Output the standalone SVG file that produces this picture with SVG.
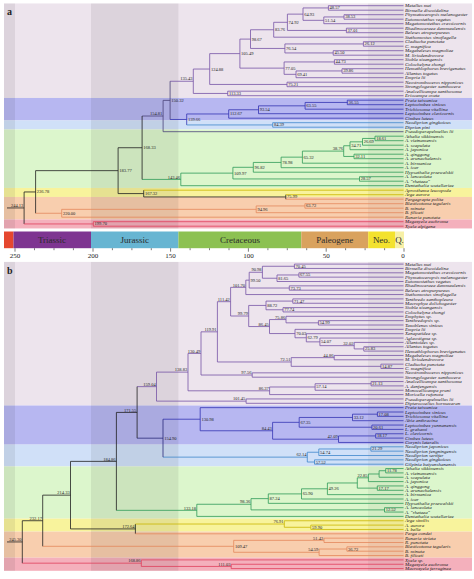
<svg xmlns="http://www.w3.org/2000/svg" width="474" height="579" viewBox="0 0 474 579">
<defs>
<style>
.tx{font-family:"Liberation Serif",serif;font-style:italic;font-size:5px;fill:#1a1a1a}
.nl{font-family:"Liberation Serif",serif;font-size:4.5px;fill:#222}
.nl .l{text-anchor:end}
.ln{fill:none;stroke-width:0.8;stroke-linejoin:miter}
.k{stroke:#1f1f1f}.pu{stroke:#7654a6}.dp{stroke:#4a4278}.bl{stroke:#3434b2}.nv{stroke:#2a2a78}.lb{stroke:#3f86cc}.gr{stroke:#2e9a58}.ye{stroke:#c9b600}.or{stroke:#e3885c}.pk{stroke:#df3f5c}
.per{font-family:"Liberation Serif",serif;font-size:9px;fill:#2b2b2b;text-anchor:middle}
.tk{font-family:"Liberation Serif",serif;font-size:7px;fill:#222;text-anchor:middle}
.pl{font-family:"Liberation Serif",serif;font-size:10px;font-weight:bold;fill:#222}
</style>
</defs>
<rect width="474" height="579" fill="#ffffff"/>
<g id="bands-a">
<rect x="4" y="3.45" width="468" height="94.5" fill="#ede4ed"/>
<rect x="4" y="97.95" width="468" height="22.5" fill="#b7b7f1"/>
<rect x="4" y="120.45" width="468" height="9" fill="#d0e0f8"/>
<rect x="4" y="129.45" width="468" height="58.5" fill="#dcf6cc"/>
<rect x="4" y="187.95" width="468" height="9" fill="#f8f39c"/>
<rect x="4" y="196.95" width="468" height="22.5" fill="#f8ceae"/>
<rect x="4" y="219.45" width="468" height="9" fill="#f4b0bc"/>
<rect x="4" y="3.45" width="11" height="225" fill="#000" opacity="0.07"/>
<rect x="91" y="3.45" width="87.4" height="225" fill="#000" opacity="0.07"/>
<rect x="368" y="3.45" width="36" height="225" fill="#000" opacity="0.04"/>
</g>
<g id="bands-b">
<rect x="4" y="261.9" width="468" height="143.6" fill="#ede4ed"/>
<rect x="4" y="405.5" width="468" height="39.1" fill="#b7b7f1"/>
<rect x="4" y="444.6" width="468" height="21.8" fill="#d0e0f8"/>
<rect x="4" y="466.4" width="468" height="52.2" fill="#dcf6cc"/>
<rect x="4" y="518.6" width="468" height="13" fill="#f8f39c"/>
<rect x="4" y="531.6" width="468" height="26.1" fill="#f8ceae"/>
<rect x="4" y="557.7" width="468" height="13.1" fill="#f4b0bc"/>
<rect x="4" y="261.9" width="11" height="308.9" fill="#000" opacity="0.07"/>
<rect x="91" y="261.9" width="87.4" height="308.9" fill="#000" opacity="0.07"/>
<rect x="368" y="261.9" width="36" height="308.9" fill="#000" opacity="0.04"/>
</g>
<g id="panel-labels">
<text class="pl" x="7" y="15">a</text>
<text class="pl" x="7" y="273.5">b</text>
</g>
<g id="timescale">
<rect x="4" y="231.5" width="9.5" height="16.7" fill="#e5472f"/>
<rect x="13.5" y="231.5" width="77.5" height="16.7" fill="#7e3591"/>
<rect x="91" y="231.5" width="87.4" height="16.7" fill="#67b5d2"/>
<rect x="178.4" y="231.5" width="122.9" height="16.7" fill="#8cc152"/>
<rect x="301.3" y="231.5" width="66.9" height="16.7" fill="#d9a25e"/>
<rect x="368.2" y="231.5" width="26.8" height="16.7" fill="#f3e22f"/>
<rect x="395" y="231.5" width="9" height="16.7" fill="#f7f0a6"/>
<text class="per" x="52" y="243">Triassic</text>
<text class="per" x="134.7" y="243">Jurassic</text>
<text class="per" x="240" y="243">Cretaceous</text>
<text class="per" x="334.7" y="243">Paleogene</text>
<text class="per" x="381.5" y="243">Neo.</text>
<text class="per" x="399.5" y="243">Q.</text>
<path fill="none" stroke="#444" stroke-width="0.7" d="M15 248.2V251.7M93 248.2V251.7M170.6 248.2V251.7M248.4 248.2V251.7M326.2 248.2V251.7M404 248.2V251.7M34.5 248.2V250.2M54 248.2V250.2M73.4 248.2V250.2M112.4 248.2V250.2M131.9 248.2V250.2M151.3 248.2V250.2M190.1 248.2V250.2M209.5 248.2V250.2M229 248.2V250.2M267.9 248.2V250.2M287.3 248.2V250.2M306.7 248.2V250.2M345.6 248.2V250.2M365.1 248.2V250.2M384.6 248.2V250.2"/>
<text class="tk" x="15" y="258">250</text>
<text class="tk" x="93" y="258">200</text>
<text class="tk" x="170.6" y="258">150</text>
<text class="tk" x="248.4" y="258">100</text>
<text class="tk" x="326.2" y="258">50</text>
<text class="tk" x="403" y="258">0</text>
</g>
<g id="connectors-a" class="ln">
<path class="pu" d="M403.5 5.7H328.4V10.2H403.5M403.5 14.7H344V19.2H403.5M344 16.95H323.8V23.7H403.5M328.4 7.95H303V20.33H323.8M403.5 28.2H346.4V32.7H403.5M303 14.14H287.4V30.45H346.4M287.4 22.3H273.7V37.2H403.5M403.5 41.7H363.4V46.2H403.5M403.5 50.7H333.2V55.2H403.5M363.4 43.95H284.9V52.95H333.2M273.7 29.75H250.5V48.45H284.9M403.5 59.7H334.4V64.2H403.5M403.5 68.7H342V73.2H403.5M342 70.95H296V77.7H403.5M334.4 61.95H284.1V74.33H296M250.5 39.1H239.9V68.14H284.1M403.5 82.2H287V86.7H403.5M239.9 53.62H209.7V84.45H287M403.5 91.2H227.7V95.7H403.5M209.7 69.04H193.3V93.45H227.7M170.1 81.25H193.3"/>
<path class="dp" d="M170.1 81.25V119.47M170.1 100.36H163.1V131.7H403.5M163.1 116.03H142.1"/>
<path class="bl" d="M403.5 100.2H347.3V104.7H403.5M347.3 102.45H305.1V109.2H403.5M305.1 105.83H258.5V113.7H403.5M258.5 109.76H228.7V118.2H403.5M228.7 113.98H186.7V124.95M170.1 119.47H186.7"/>
<path class="lb" d="M186.7 124.95H272.7M403.5 122.7H272.7V127.2H403.5"/>
<path class="gr" d="M403.5 136.2H375V140.7H403.5M375 138.45H362.5V145.2H403.5M362.5 141.83H350V149.7H403.5M403.5 154.2H354V158.7H403.5M350 145.76H343.7V156.45H354M343.7 151.1H302.4V163.2H403.5M302.4 157.15H281.1V167.7H403.5M281.1 162.43H253.3V172.2H403.5M403.5 176.7H359.5V181.2H403.5M253.3 167.31H232.9V178.95H359.5M232.9 173.13H180.8V185.7H403.5M142.1 179.41H180.8"/>
<path class="k" d="M142.1 116.03V179.41M142.1 147.72H118.1V193.58H143.7M143.7 190.2V196.95H285.8M285.8 194.7V199.2M118.1 170.65H35.6V213.26M35.6 191.96H24.1V223.95M7 207.95H24.1"/>
<path class="ye" d="M403.5 190.2H143.7M285.8 194.7H403.5"/>
<path class="or" d="M285.8 199.2H403.5M403.5 203.7H304.9V208.2H403.5M304.9 205.95H256.2V212.7H403.5M256.2 209.33H61.7V217.2H403.5M35.6 213.26H61.7"/>
<path class="pk" d="M403.5 221.7H93.3V226.2H403.5M24.1 223.95H93.3"/>
</g>
<g id="connectors-b" class="ln">
<path class="pu" d="M403.5 264.1H294.4V268.45H403.5M403.5 272.8H298.9V277.15H403.5M298.9 274.98H277V281.5H403.5M294.4 266.28H262.4V278.24H277M403.5 285.85H289.3V290.2H403.5M262.4 272.26H249.2V288.03H289.3M249.2 280.15H245.8V294.55H403.5M403.5 298.9H292.8V303.25H403.5M403.5 307.6H283V311.95H403.5M292.8 301.08H266V309.78H283M403.5 320.65H318.4V325H403.5M403.5 316.3H286V322.83H318.4M403.5 346.75H363.8V351.1H403.5M403.5 342.4H354.2V348.93H363.8M403.5 338.05H319.9V345.66H354.2M403.5 333.7H306.3V341.86H319.9M403.5 329.35H295V337.78H306.3M286 319.56H269.5V333.56H295M266 305.43H248.7V326.56H269.5M245.8 287.35H230.6V316H248.7M403.5 355.45H334.2V359.8H403.5M403.5 364.15H380.9V368.5H403.5M334.2 357.63H291.2V366.33H380.9M230.6 301.68H217.4V361.98H291.2M403.5 372.85H252.2V377.2H403.5M217.4 331.83H201V375.03H252.2M403.5 381.55H371.1V385.9H403.5M371.1 383.73H315.1V390.25H403.5M315.1 386.99H269.6V394.6H403.5M201 353.43H188V390.8H269.6M403.5 398.95H246.1V403.3H403.5M188 372.12H156.5V401.13H246.1M156.5 386.63H137.1"/>
<path class="bl" d="M403.5 412H377.4V416.35H403.5M377.4 414.18H352.5V420.7H403.5M403.5 425.05H371.9V429.4H403.5M352.5 417.44H299.2V427.23H371.9M403.5 433.75H375.7V438.1H403.5M375.7 435.93H338.5V442.45H403.5M299.2 422.34H272.6V439.19H338.5M403.5 407.65H200.2V430.77H272.6M163 419.21H200.2"/>
<path class="lb" d="M403.5 446.8H370.9V451.15H403.5M370.9 448.98H318.8V455.5H403.5M403.5 459.85H314.5V464.2H403.5M318.8 452.24H307.3V462.03H314.5M163 457.14H307.3"/>
<path class="nv" d="M163 419.21V457.14M137.1 438.18H163"/>
<path class="gr" d="M403.5 468.55H385.7V472.9H403.5M385.7 470.73H379.1V477.25H403.5M379.1 473.99H368.4V481.6H403.5M403.5 485.95H377.3V490.3H403.5M368.4 477.8H357.3V488.13H377.3M357.3 482.97H327.4V494.65H403.5M327.4 488.81H301.5V499H403.5M301.5 493.9H268.3V503.35H403.5M403.5 507.7H384.5V512.05H403.5M268.3 498.63H251V509.88H384.5M251 504.25H196.8V516.4H403.5M116.4 510.33H196.8"/>
<path class="k" d="M137.1 386.63V438.18M137.1 412.41H116.4V510.33M116.4 461.37H70.5V528.91H135.4M135.4 524.02V533.8M70.5 495.15H42.7V546.31M42.7 520.73H22.3V563.17M7 541.95H22.3"/>
<path class="ye" d="M403.5 525.1H310.8V529.45H403.5M403.5 520.75H284.3V527.28H310.8M135.4 524.02H284.3"/>
<path class="or" d="M135.4 533.8H403.5M403.5 538.15H324V542.5H403.5M403.5 546.85H346.9V551.2H403.5M346.9 549.03H319.1V555.55H403.5M324 540.33H233.7V552.29H319.1M42.7 546.31H233.7"/>
<path class="pk" d="M403.5 564.25H231.2V568.6H403.5M403.5 559.9H141.3V566.43H231.2M22.3 563.17H141.3"/>
</g>
<g id="nodes-a" class="nl">
<g id="na-24413"><text class="l" x="23.3" y="207.15">244.13</text></g>
<g id="na-23678"><text x="36.8" y="193.46">236.78</text></g>
<g id="na-22000"><text x="62.9" y="214.76">220.00</text></g>
<g id="na-19970"><text x="94.5" y="225.45">199.70</text></g>
<g id="na-18377"><text x="119.3" y="172.15">183.77</text></g>
<g id="na-16833"><text x="143.3" y="149.22">168.33</text></g>
<g id="na-16732"><text x="144.9" y="195.08">167.32</text></g>
<g id="na-15481"><text class="l" x="162.3" y="115.23">154.81</text></g>
<g id="na-15032"><text x="171.3" y="101.86">150.32</text></g>
<g id="na-14346"><text class="l" x="180" y="178.61">143.46</text></g>
<g id="na-13966"><text x="187.9" y="120.97">139.66</text></g>
<g id="na-13543"><text class="l" x="192.5" y="80.45">135.43</text></g>
<g id="na-12488"><text x="210.9" y="70.54">124.88</text></g>
<g id="na-11333"><text x="228.9" y="94.95">113.33</text></g>
<g id="na-11267"><text x="229.9" y="115.48">112.67</text></g>
<g id="na-10997"><text x="234.1" y="174.63">109.97</text></g>
<g id="na-10549"><text x="241.1" y="55.12">105.49</text></g>
<g id="na-9867"><text x="251.7" y="40.6">98.67</text></g>
<g id="na-9682"><text x="254.5" y="168.81">96.82</text></g>
<g id="na-9496"><text x="257.4" y="210.83">94.96</text></g>
<g id="na-9354"><text x="259.7" y="111.26">93.54</text></g>
<g id="na-8439"><text x="273.9" y="126.45">84.39</text></g>
<g id="na-8376"><text x="274.9" y="31.25">83.76</text></g>
<g id="na-7898"><text x="282.3" y="163.93">78.98</text></g>
<g id="na-7705"><text x="285.3" y="69.64">77.05</text></g>
<g id="na-7654"><text x="286.1" y="49.95">76.54</text></g>
<g id="na-7599"><text x="287" y="198.45">75.99</text></g>
<g id="na-7521"><text x="288.2" y="85.95">75.21</text></g>
<g id="na-7492"><text x="288.6" y="23.8">74.92</text></g>
<g id="na-6941"><text x="297.2" y="75.83">69.41</text></g>
<g id="na-6532"><text x="303.6" y="158.65">65.32</text></g>
<g id="na-6493"><text x="304.2" y="15.64">64.93</text></g>
<g id="na-6372"><text x="306.1" y="207.45">63.72</text></g>
<g id="na-6355"><text x="306.3" y="107.33">63.55</text></g>
<g id="na-5154"><text x="325" y="21.83">51.54</text></g>
<g id="na-4857"><text x="329.6" y="9.45">48.57</text></g>
<g id="na-4550"><text x="334.4" y="54.45">45.50</text></g>
<g id="na-4473"><text x="335.6" y="63.45">44.73</text></g>
<g id="na-3986"><text x="343.2" y="72.45">39.86</text></g>
<g id="na-3876"><text class="l" x="342.9" y="150.3">38.76</text></g>
<g id="na-3853"><text x="345.2" y="18.45">38.53</text></g>
<g id="na-3701"><text x="347.6" y="31.95">37.01</text></g>
<g id="na-3655"><text x="348.5" y="103.95">36.55</text></g>
<g id="na-3471"><text x="351.2" y="147.26">34.71</text></g>
<g id="na-3211"><text x="355.2" y="157.95">32.11</text></g>
<g id="na-2857"><text x="360.7" y="180.45">28.57</text></g>
<g id="na-2612"><text x="364.6" y="45.45">26.12</text></g>
<g id="na-2669"><text x="363.7" y="143.33">26.69</text></g>
<g id="na-1861"><text x="376.2" y="139.95">18.61</text></g>
</g>
<g id="nodes-b" class="nl">
<g id="nb-24530"><text class="l" x="21.5" y="541.15">245.30</text></g>
<g id="nb-23217"><text class="l" x="41.9" y="519.93">232.17</text></g>
<g id="nb-21433"><text class="l" x="69.7" y="494.35">214.33</text></g>
<g id="nb-18486"><text class="l" x="115.6" y="460.57">184.86</text></g>
<g id="nb-17264"><text class="l" x="134.6" y="528.11">172.64</text></g>
<g id="nb-17155"><text class="l" x="136.3" y="411.61">171.55</text></g>
<g id="nb-16886"><text class="l" x="140.5" y="562.37">168.86</text></g>
<g id="nb-15904"><text class="l" x="155.7" y="385.83">159.04</text></g>
<g id="nb-15490"><text x="164.2" y="439.68">154.90</text></g>
<g id="nb-13883"><text class="l" x="187.2" y="371.32">138.83</text></g>
<g id="nb-13318"><text class="l" x="196" y="509.53">133.18</text></g>
<g id="nb-13098"><text x="201.4" y="420.71">130.98</text></g>
<g id="nb-13049"><text class="l" x="200.2" y="352.63">130.49</text></g>
<g id="nb-11991"><text class="l" x="216.6" y="331.03">119.91</text></g>
<g id="nb-11142"><text class="l" x="229.8" y="300.88">111.42</text></g>
<g id="nb-11103"><text class="l" x="230.4" y="565.63">111.03</text></g>
<g id="nb-10947"><text x="234.9" y="547.81">109.47</text></g>
<g id="nb-10170"><text class="l" x="245" y="286.55">101.70</text></g>
<g id="nb-10145"><text class="l" x="245.3" y="400.33">101.45</text></g>
<g id="nb-9979"><text class="l" x="247.9" y="315.2">99.79</text></g>
<g id="nb-9950"><text x="250.4" y="281.65">99.50</text></g>
<g id="nb-9836"><text class="l" x="250.2" y="503.45">98.36</text></g>
<g id="nb-9756"><text class="l" x="251.4" y="374.23">97.56</text></g>
<g id="nb-9098"><text class="l" x="261.6" y="271.46">90.98</text></g>
<g id="nb-8872"><text x="267.2" y="306.93">88.72</text></g>
<g id="nb-8724"><text x="269.5" y="500.13">87.24</text></g>
<g id="nb-8645"><text class="l" x="268.7" y="325.76">86.45</text></g>
<g id="nb-8637"><text class="l" x="268.8" y="390">86.37</text></g>
<g id="nb-8443"><text class="l" x="271.8" y="429.97">84.43</text></g>
<g id="nb-8165"><text x="278.2" y="279.74">81.65</text></g>
<g id="nb-7774"><text x="284.2" y="311.28">77.74</text></g>
<g id="nb-7691"><text class="l" x="283.5" y="523.22">76.91</text></g>
<g id="nb-7586"><text class="l" x="285.2" y="318.76">75.86</text></g>
<g id="nb-7373"><text x="290.5" y="289.53">73.73</text></g>
<g id="nb-7251"><text class="l" x="290.4" y="361.18">72.51</text></g>
<g id="nb-7147"><text x="294" y="302.58">71.47</text></g>
<g id="nb-7045"><text x="295.6" y="267.78">70.45</text></g>
<g id="nb-7003"><text x="296.2" y="335.06">70.03</text></g>
<g id="nb-6755"><text x="300.1" y="276.48">67.55</text></g>
<g id="nb-6735"><text x="300.4" y="423.84">67.35</text></g>
<g id="nb-6590"><text x="302.7" y="495.4">65.90</text></g>
<g id="nb-6279"><text x="307.5" y="339.28">62.79</text></g>
<g id="nb-6214"><text class="l" x="306.5" y="456.34">62.14</text></g>
<g id="nb-5990"><text x="312" y="528.78">59.90</text></g>
<g id="nb-5752"><text x="315.7" y="463.53">57.52</text></g>
<g id="nb-5714"><text x="316.3" y="388.49">57.14</text></g>
<g id="nb-5499"><text x="319.6" y="324.33">54.99</text></g>
<g id="nb-5474"><text x="320" y="453.74">54.74</text></g>
<g id="nb-5459"><text class="l" x="318.3" y="551.49">54.59</text></g>
<g id="nb-5407"><text x="321.1" y="343.36">54.07</text></g>
<g id="nb-5142"><text class="l" x="323.2" y="539.53">51.42</text></g>
<g id="nb-4926"><text x="328.6" y="490.31">49.26</text></g>
<g id="nb-4486"><text class="l" x="333.4" y="356.83">44.86</text></g>
<g id="nb-4209"><text class="l" x="337.7" y="438.39">42.09</text></g>
<g id="nb-3672"><text x="348.1" y="550.53">36.72</text></g>
<g id="nb-3312"><text x="353.7" y="418.94">33.12</text></g>
<g id="nb-3202"><text class="l" x="353.4" y="344.86">32.02</text></g>
<g id="nb-2583"><text x="365" y="350.43">25.83</text></g>
<g id="nb-2285"><text class="l" x="367.6" y="477">22.85</text></g>
<g id="nb-2129"><text x="372.1" y="450.48">21.29</text></g>
<g id="nb-2113"><text x="372.3" y="385.23">21.13</text></g>
<g id="nb-2061"><text x="373.1" y="428.73">20.61</text></g>
<g id="nb-1817"><text x="376.9" y="437.43">18.17</text></g>
<g id="nb-1717"><text x="378.5" y="489.63">17.17</text></g>
<g id="nb-1708"><text x="378.6" y="415.68">17.08</text></g>
<g id="nb-1487"><text x="382.1" y="367.83">14.87</text></g>
<g id="nb-1252"><text x="385.7" y="511.38">12.52</text></g>
<g id="nb-1178"><text x="386.9" y="472.23">11.78</text></g>
</g>
<g id="taxa-a" class="tx">
<g id="ta00"><text x="405" y="7.3">Metallus mai</text></g>
<g id="ta01"><text x="405" y="11.8">Birmella discoidalina</text></g>
<g id="ta02"><text x="405" y="16.3">Phymatoceropsis melanogaster</text></g>
<g id="ta03"><text x="405" y="20.8">Eutomostethus vegetus</text></g>
<g id="ta04"><text x="405" y="25.3">Megatomostethus crassicornis</text></g>
<g id="ta05"><text x="405" y="29.8">Rhadinoceraea dammaulensis</text></g>
<g id="ta06"><text x="405" y="34.3">Beleses atropurpureus</text></g>
<g id="ta07"><text x="405" y="38.8">Stethomostus sinoflagella</text></g>
<g id="ta08"><text x="405" y="43.3">Cladiucha punctata</text></g>
<g id="ta09"><text x="405" y="47.8">C. magnifica</text></g>
<g id="ta10"><text x="405" y="52.3">Megabeleses magnoliae</text></g>
<g id="ta11"><text x="405" y="56.8">M. liriodendrovora</text></g>
<g id="ta12"><text x="405" y="61.3">Siobla xizangensis</text></g>
<g id="ta13"><text x="405" y="65.8">Colochelyna zhongi</text></g>
<g id="ta14"><text x="405" y="70.3">Hemathlophorus brevigenatus</text></g>
<g id="ta15"><text x="405" y="74.8">Allantus togatus</text></g>
<g id="ta16"><text x="405" y="79.3">Empria lii</text></g>
<g id="ta17"><text x="405" y="83.8">Neostromboceros nipponicus</text></g>
<g id="ta18"><text x="405" y="88.3">Strongylogaster xanthocera</text></g>
<g id="ta19"><text x="405" y="92.8">Analcellicampa xanthosoma</text></g>
<g id="ta20"><text x="405" y="97.3">Eriocampa ovata</text></g>
<g id="ta21"><text x="405" y="101.8">Praia taiwanica</text></g>
<g id="ta22"><text x="405" y="106.3">Leptocimbex sinicus</text></g>
<g id="ta23"><text x="405" y="110.8">Trichiosoma vitellina</text></g>
<g id="ta24"><text x="405" y="115.3">Leptocimbex clavicornis</text></g>
<g id="ta25"><text x="405" y="119.8">Cimbex luteus</text></g>
<g id="ta26"><text x="405" y="124.3">Neodiprion gingkoicus</text></g>
<g id="ta27"><text x="405" y="128.8">Diprion pini</text></g>
<g id="ta28"><text x="405" y="133.3">Pseudoperapelmellus lii</text></g>
<g id="ta29"><text x="405" y="137.8">Athalia sikkimensis</text></g>
<g id="ta30"><text x="405" y="142.3">A. vietnamensis</text></g>
<g id="ta31"><text x="405" y="146.8">A. scapulata</text></g>
<g id="ta32"><text x="405" y="151.3">A. japonica</text></g>
<g id="ta33"><text x="405" y="155.8">A. qinggong</text></g>
<g id="ta34"><text x="405" y="160.3">A. arunachalensis</text></g>
<g id="ta35"><text x="405" y="164.8">A. birmanica</text></g>
<g id="ta36"><text x="405" y="169.3">A. icar</text></g>
<g id="ta37"><text x="405" y="173.8">Hypsathalia przewalskii</text></g>
<g id="ta38"><text x="405" y="178.3">A. lanceolata</text></g>
<g id="ta39"><text x="405" y="182.8">A. "rhetaea"</text></g>
<g id="ta40"><text x="405" y="187.3">Dentathalia scutellariae</text></g>
<g id="ta41"><text x="405" y="191.8">Aprosthema leucopoda</text></g>
<g id="ta42"><text x="405" y="196.3">Arge aurora</text></g>
<g id="ta43"><text x="405" y="200.8">Pergagrapta polita</text></g>
<g id="ta44"><text x="405" y="205.3">Blasticotoma tegularis</text></g>
<g id="ta45"><text x="405" y="209.8">B. minuta</text></g>
<g id="ta46"><text x="405" y="214.3">B. filiceti</text></g>
<g id="ta47"><text x="405" y="218.8">Runaria punctata</text></g>
<g id="ta48"><text x="405" y="223.3">Megaxyela euchroma</text></g>
<g id="ta49"><text x="405" y="227.8">Xyela alpigena</text></g>
</g>
<g id="taxa-b" class="tx">
<g id="tb00"><text x="405" y="265.7">Metallus mai</text></g>
<g id="tb01"><text x="405" y="270.05">Birmella discoidalina</text></g>
<g id="tb02"><text x="405" y="274.4">Megatomostethus crassicornis</text></g>
<g id="tb03"><text x="405" y="278.75">Phymatoceropsis melanogaster</text></g>
<g id="tb04"><text x="405" y="283.1">Eutomostethus vegetus</text></g>
<g id="tb05"><text x="405" y="287.45">Rhadinoceraea dammaulensis</text></g>
<g id="tb06"><text x="405" y="291.8">Beleses atropurpureus</text></g>
<g id="tb07"><text x="405" y="296.15">Stethomostus sinoflagella</text></g>
<g id="tb08"><text x="405" y="300.5">Tenthredo xanthopleura</text></g>
<g id="tb09"><text x="405" y="304.85">Macrophya dolichogaster</text></g>
<g id="tb10"><text x="405" y="309.2">Siobla xizangensis</text></g>
<g id="tb11"><text x="405" y="313.55">Colochelyna zhongi</text></g>
<g id="tb12"><text x="405" y="317.9">Emphytus sp.</text></g>
<g id="tb13"><text x="405" y="322.25">Tenthredopsis sp.</text></g>
<g id="tb14"><text x="405" y="326.6">Taxoblenus sinicus</text></g>
<g id="tb15"><text x="405" y="330.95">Empria lii</text></g>
<g id="tb16"><text x="405" y="335.3">Xenapatidea sp.</text></g>
<g id="tb17"><text x="405" y="339.65">Aglaostigma sp.</text></g>
<g id="tb18"><text x="405" y="344">Allantoides sp.</text></g>
<g id="tb19"><text x="405" y="348.35">Allantus togatus</text></g>
<g id="tb20"><text x="405" y="352.7">Hemathlophorus brevigenatus</text></g>
<g id="tb21"><text x="405" y="357.05">Megabeleses magnoliae</text></g>
<g id="tb22"><text x="405" y="361.4">M. liriodendrovora</text></g>
<g id="tb23"><text x="405" y="365.75">Cladiucha punctata</text></g>
<g id="tb24"><text x="405" y="370.1">C. magnifica</text></g>
<g id="tb25"><text x="405" y="374.45">Neostromboceros nipponicus</text></g>
<g id="tb26"><text x="405" y="378.8">Strongylogaster xanthocera</text></g>
<g id="tb27"><text x="405" y="383.15">Analcellicampa xanthosoma</text></g>
<g id="tb28"><text x="405" y="387.5">A. danfengensis</text></g>
<g id="tb29"><text x="405" y="391.85">Monocellicampa pruni</text></g>
<g id="tb30"><text x="405" y="396.2">Moricella rufonota</text></g>
<g id="tb31"><text x="405" y="400.55">Pseudoperapelmellus lii</text></g>
<g id="tb32"><text x="405" y="404.9">Dipterocoelius hormazaran</text></g>
<g id="tb33"><text x="405" y="409.25">Praia taiwanica</text></g>
<g id="tb34"><text x="405" y="413.6">Leptocimbex sinicus</text></g>
<g id="tb35"><text x="405" y="417.95">Trichiosoma vitellina</text></g>
<g id="tb36"><text x="405" y="422.3">Abia anthracina</text></g>
<g id="tb37"><text x="405" y="426.65">Leptocimbex yunnanensis</text></g>
<g id="tb38"><text x="405" y="431">L. grahami</text></g>
<g id="tb39"><text x="405" y="435.35">L. clavicornis</text></g>
<g id="tb40"><text x="405" y="439.7">Cimbex luteus</text></g>
<g id="tb41"><text x="405" y="444.05">Corynis lateralis</text></g>
<g id="tb42"><text x="405" y="448.4">Neodiprion japonicus</text></g>
<g id="tb43"><text x="405" y="452.75">Neodiprion fengningensis</text></g>
<g id="tb44"><text x="405" y="457.1">Neodiprion sertifer</text></g>
<g id="tb45"><text x="405" y="461.45">Neodiprion gingkoicus</text></g>
<g id="tb46"><text x="405" y="465.8">Gilpinia baiyunshanensis</text></g>
<g id="tb47"><text x="405" y="470.15">Athalia sikkimensis</text></g>
<g id="tb48"><text x="405" y="474.5">A. vietnamensis</text></g>
<g id="tb49"><text x="405" y="478.85">A. scapulata</text></g>
<g id="tb50"><text x="405" y="483.2">A. japonica</text></g>
<g id="tb51"><text x="405" y="487.55">A. qinggong</text></g>
<g id="tb52"><text x="405" y="491.9">A. arunachalensis</text></g>
<g id="tb53"><text x="405" y="496.25">A. birmanica</text></g>
<g id="tb54"><text x="405" y="500.6">A. icar</text></g>
<g id="tb55"><text x="405" y="504.95">Hypsathalia przewalskii</text></g>
<g id="tb56"><text x="405" y="509.3">A. lanceolata</text></g>
<g id="tb57"><text x="405" y="513.65">A. "rhetaea"</text></g>
<g id="tb58"><text x="405" y="518">Dentathalia scutellariae</text></g>
<g id="tb59"><text x="405" y="522.35">Arge similis</text></g>
<g id="tb60"><text x="405" y="526.7">A. aurora</text></g>
<g id="tb61"><text x="405" y="531.05">A. bella</text></g>
<g id="tb62"><text x="405" y="535.4">Perga condei</text></g>
<g id="tb63"><text x="405" y="539.75">Runaria striata</text></g>
<g id="tb64"><text x="405" y="544.1">R. punctata</text></g>
<g id="tb65"><text x="405" y="548.45">Blasticotoma tegularis</text></g>
<g id="tb66"><text x="405" y="552.8">B. minuta</text></g>
<g id="tb67"><text x="405" y="557.15">B. filiceti</text></g>
<g id="tb68"><text x="405" y="561.5">Xyela sp.</text></g>
<g id="tb69"><text x="405" y="565.85">Megaxyela euchroma</text></g>
<g id="tb70"><text x="405" y="570.2">Macroxyela ferruginea</text></g>
</g>
</svg>
